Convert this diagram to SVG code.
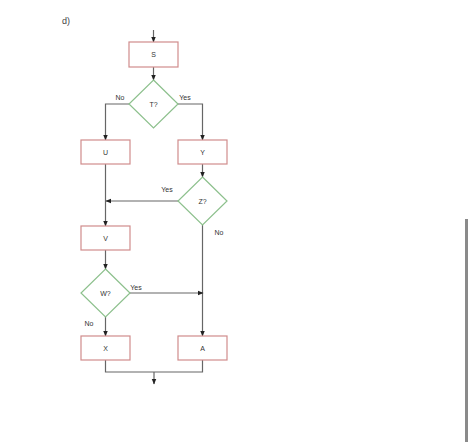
<svg xmlns="http://www.w3.org/2000/svg" width="474" height="442" viewBox="0 0 474 442">
<defs>
<style>
.box{fill:#fff;stroke:#d08c8c;stroke-width:1.2}
.dia{fill:#fff;stroke:#8cc08c;stroke-width:1.2}
.ln{fill:none;stroke:#666;stroke-width:1.2}
.t{font-family:"Liberation Sans",Arial,sans-serif;font-size:7px;fill:#333;text-anchor:middle;dominant-baseline:central}
.lbl{font-family:"Liberation Sans",Arial,sans-serif;font-size:7px;fill:#333;text-anchor:middle;dominant-baseline:central}
</style>
<marker id="ah" viewBox="0 0 10 10" refX="9" refY="5" markerWidth="5" markerHeight="5" orient="auto">
<path d="M0,1 L10,5 L0,9 z" fill="#222"/>
</marker>
</defs>
<rect width="474" height="442" fill="#fff"/>
<text x="66" y="21" font-family="'Liberation Sans',Arial,sans-serif" font-size="9" fill="#444" text-anchor="middle" dominant-baseline="central">d)</text>
<rect x="465" y="219" width="3" height="223" fill="#8a8a8a"/>
<g id="connectors">
<path class="ln" d="M153.5,30 V42" marker-end="url(#ah)"/>
<path class="ln" d="M153.5,67 V80" marker-end="url(#ah)"/>
<path class="ln" d="M129,104 H105.5 V140" marker-end="url(#ah)"/>
<path class="ln" d="M178,104 H202.5 V140" marker-end="url(#ah)"/>
<path class="ln" d="M202.5,164 V177" marker-end="url(#ah)"/>
<path class="ln" d="M179,201 H106" marker-end="url(#ah)"/>
<path class="ln" d="M105.5,164 V226" marker-end="url(#ah)"/>
<path class="ln" d="M202.5,225 V336" marker-end="url(#ah)"/>
<path class="ln" d="M105.5,250 V269" marker-end="url(#ah)"/>
<path class="ln" d="M129,293 H203" marker-end="url(#ah)"/>
<path class="ln" d="M105.5,317 V336" marker-end="url(#ah)"/>
<path class="ln" d="M105.5,360 V372 H202.5 V360"/>
<path class="ln" d="M154,372 V384" marker-end="url(#ah)"/>
<text class="lbl" x="120" y="97">No</text>
<text class="lbl" x="185" y="97">Yes</text>
<text class="lbl" x="167" y="189">Yes</text>
<text class="lbl" x="219" y="232">No</text>
<text class="lbl" x="136" y="287">Yes</text>
<text class="lbl" x="89" y="323">No</text>
</g>
<g id="S"><rect class="box" x="129" y="42" width="49" height="25"/><text class="t" x="153.5" y="54.5">S</text></g>
<g id="T"><path class="dia" d="M153.5,80 L178,104 L153.5,128 L129,104 Z"/><text class="t" x="153.5" y="104">T?</text></g>
<g id="U"><rect class="box" x="81" y="140" width="49" height="24"/><text class="t" x="105.5" y="152">U</text></g>
<g id="Y"><rect class="box" x="178" y="140" width="49" height="24"/><text class="t" x="202.5" y="152">Y</text></g>
<g id="Z"><path class="dia" d="M202.5,177 L227,201 L202.5,225 L178,201 Z"/><text class="t" x="202.5" y="201">Z?</text></g>
<g id="V"><rect class="box" x="81" y="226" width="49" height="24"/><text class="t" x="105.5" y="238">V</text></g>
<g id="W"><path class="dia" d="M105.5,269 L130,293 L105.5,317 L81,293 Z"/><text class="t" x="105.5" y="293">W?</text></g>
<g id="X"><rect class="box" x="81" y="336" width="49" height="24"/><text class="t" x="105.5" y="348">X</text></g>
<g id="A"><rect class="box" x="178" y="336" width="49" height="24"/><text class="t" x="202.5" y="348">A</text></g>
</svg>
